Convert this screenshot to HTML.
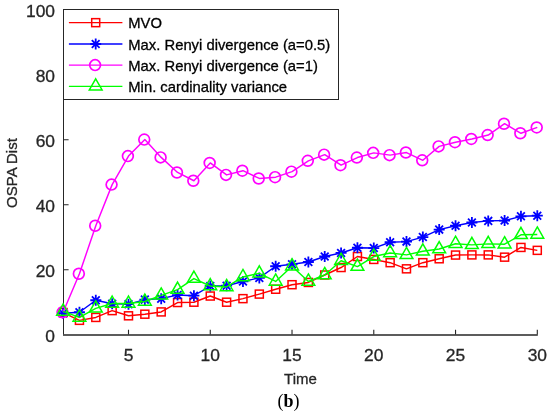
<!DOCTYPE html>
<html><head><meta charset="utf-8"><style>
html,body{margin:0;padding:0;background:#fff;}
svg{display:block;will-change:transform;}
text{font-family:"Liberation Sans",sans-serif;}
.tl{font-size:17.4px;fill:#262626;stroke:#262626;stroke-width:0.3px;}
.al{font-size:15px;fill:#262626;stroke:#262626;stroke-width:0.3px;}
.lg{font-size:14.8px;fill:#000;stroke:#000;stroke-width:0.3px;}
.cap{font-family:"Liberation Serif",serif;font-size:18px;fill:#000;}
</style></head><body>
<svg width="550" height="415" viewBox="0 0 550 415">
<path d="M63.5 9.5V334.4" fill="none" stroke="#262626" stroke-width="1"/>
<path d="M63 334.9H537.8" fill="none" stroke="#262626" stroke-width="1.5"/>
<path d="M64 269.81H68.6M64 204.77H68.6M64 139.73H68.6M64 74.69H68.6M128.5 334.4V329.7M210.26 334.4V329.7M292.02 334.4V329.7M373.78 334.4V329.7M455.54 334.4V329.7M537.3 334.4V329.7" stroke="#262626" stroke-width="1.1"/>
<text x="55" y="342.15" text-anchor="end" class="tl">0</text>
<text x="55" y="277.11" text-anchor="end" class="tl">20</text>
<text x="55" y="212.07" text-anchor="end" class="tl">40</text>
<text x="55" y="147.03" text-anchor="end" class="tl">60</text>
<text x="55" y="81.99" text-anchor="end" class="tl">80</text>
<text x="55" y="16.95" text-anchor="end" class="tl">100</text>
<text x="128.5" y="361" text-anchor="middle" class="tl">5</text>
<text x="210.26" y="361" text-anchor="middle" class="tl">10</text>
<text x="292.02" y="361" text-anchor="middle" class="tl">15</text>
<text x="373.78" y="361" text-anchor="middle" class="tl">20</text>
<text x="455.54" y="361" text-anchor="middle" class="tl">25</text>
<text x="537.3" y="361" text-anchor="middle" class="tl">30</text>
<text x="300.5" y="384" text-anchor="middle" class="al">Time</text>
<text transform="translate(17.2 173) rotate(-90)" text-anchor="middle" class="al">OSPA Dist</text>
<text x="288.5" y="407" text-anchor="middle" class="cap">(<tspan font-weight="bold">b</tspan>)</text>
<polyline points="63.09,312.57 79.44,320.34 95.8,317.43 112.15,310.62 128.5,315.81 144.85,314.19 161.2,311.92 177.56,302.52 193.91,302.2 210.26,296.04 226.61,302.2 242.96,298.64 259.32,294.1 275.67,289.24 292.02,284.7 308.37,282.44 324.72,274.98 341.08,267.53 357.43,256.52 373.78,259.43 390.13,262.67 406.48,268.83 422.84,262.67 439.19,258.78 455.54,255.06 471.89,254.9 488.24,254.9 504.6,257.16 520.95,247.44 537.3,250.36" fill="none" stroke="#ff0000" stroke-width="1.45" stroke-linejoin="round"/>
<rect x="59.09" y="308.57" width="8" height="8" fill="none" stroke="#ff0000" stroke-width="1.5"/>
<rect x="75.44" y="316.34" width="8" height="8" fill="none" stroke="#ff0000" stroke-width="1.5"/>
<rect x="91.8" y="313.43" width="8" height="8" fill="none" stroke="#ff0000" stroke-width="1.5"/>
<rect x="108.15" y="306.62" width="8" height="8" fill="none" stroke="#ff0000" stroke-width="1.5"/>
<rect x="124.5" y="311.81" width="8" height="8" fill="none" stroke="#ff0000" stroke-width="1.5"/>
<rect x="140.85" y="310.19" width="8" height="8" fill="none" stroke="#ff0000" stroke-width="1.5"/>
<rect x="157.2" y="307.92" width="8" height="8" fill="none" stroke="#ff0000" stroke-width="1.5"/>
<rect x="173.56" y="298.52" width="8" height="8" fill="none" stroke="#ff0000" stroke-width="1.5"/>
<rect x="189.91" y="298.2" width="8" height="8" fill="none" stroke="#ff0000" stroke-width="1.5"/>
<rect x="206.26" y="292.04" width="8" height="8" fill="none" stroke="#ff0000" stroke-width="1.5"/>
<rect x="222.61" y="298.2" width="8" height="8" fill="none" stroke="#ff0000" stroke-width="1.5"/>
<rect x="238.96" y="294.64" width="8" height="8" fill="none" stroke="#ff0000" stroke-width="1.5"/>
<rect x="255.32" y="290.1" width="8" height="8" fill="none" stroke="#ff0000" stroke-width="1.5"/>
<rect x="271.67" y="285.24" width="8" height="8" fill="none" stroke="#ff0000" stroke-width="1.5"/>
<rect x="288.02" y="280.7" width="8" height="8" fill="none" stroke="#ff0000" stroke-width="1.5"/>
<rect x="304.37" y="278.44" width="8" height="8" fill="none" stroke="#ff0000" stroke-width="1.5"/>
<rect x="320.72" y="270.98" width="8" height="8" fill="none" stroke="#ff0000" stroke-width="1.5"/>
<rect x="337.08" y="263.53" width="8" height="8" fill="none" stroke="#ff0000" stroke-width="1.5"/>
<rect x="353.43" y="252.52" width="8" height="8" fill="none" stroke="#ff0000" stroke-width="1.5"/>
<rect x="369.78" y="255.43" width="8" height="8" fill="none" stroke="#ff0000" stroke-width="1.5"/>
<rect x="386.13" y="258.67" width="8" height="8" fill="none" stroke="#ff0000" stroke-width="1.5"/>
<rect x="402.48" y="264.83" width="8" height="8" fill="none" stroke="#ff0000" stroke-width="1.5"/>
<rect x="418.84" y="258.67" width="8" height="8" fill="none" stroke="#ff0000" stroke-width="1.5"/>
<rect x="435.19" y="254.78" width="8" height="8" fill="none" stroke="#ff0000" stroke-width="1.5"/>
<rect x="451.54" y="251.06" width="8" height="8" fill="none" stroke="#ff0000" stroke-width="1.5"/>
<rect x="467.89" y="250.9" width="8" height="8" fill="none" stroke="#ff0000" stroke-width="1.5"/>
<rect x="484.24" y="250.9" width="8" height="8" fill="none" stroke="#ff0000" stroke-width="1.5"/>
<rect x="500.6" y="253.16" width="8" height="8" fill="none" stroke="#ff0000" stroke-width="1.5"/>
<rect x="516.95" y="243.44" width="8" height="8" fill="none" stroke="#ff0000" stroke-width="1.5"/>
<rect x="533.3" y="246.36" width="8" height="8" fill="none" stroke="#ff0000" stroke-width="1.5"/>
<polyline points="63.09,313.22 79.44,312.24 95.8,300.26 112.15,303.82 128.5,304.14 144.85,299.61 161.2,298.64 177.56,295.07 193.91,295.72 210.26,286 226.61,285.68 242.96,281.46 259.32,277.9 275.67,266.24 292.02,264.29 308.37,262.02 324.72,256.52 341.08,252.95 357.43,247.77 373.78,248.09 390.13,242.26 406.48,241.61 422.84,237.08 439.19,229.62 455.54,225.74 471.89,222.5 488.24,220.88 504.6,220.55 520.95,216.34 537.3,215.69" fill="none" stroke="#0000ff" stroke-width="1.45" stroke-linejoin="round"/>
<path d="M57.59 313.22H68.59M63.09 307.72V318.72M59.2 309.33L66.98 317.11M59.2 317.11L66.98 309.33" stroke="#0000ff" stroke-width="1.8" fill="none"/>
<path d="M73.94 312.24H84.94M79.44 306.74V317.74M75.55 308.35L83.33 316.13M75.55 316.13L83.33 308.35" stroke="#0000ff" stroke-width="1.8" fill="none"/>
<path d="M90.3 300.26H101.3M95.8 294.76V305.76M91.91 296.37L99.69 304.15M91.91 304.15L99.69 296.37" stroke="#0000ff" stroke-width="1.8" fill="none"/>
<path d="M106.65 303.82H117.65M112.15 298.32V309.32M108.26 299.93L116.04 307.71M108.26 307.71L116.04 299.93" stroke="#0000ff" stroke-width="1.8" fill="none"/>
<path d="M123 304.14H134M128.5 298.64V309.64M124.61 300.25L132.39 308.03M124.61 308.03L132.39 300.25" stroke="#0000ff" stroke-width="1.8" fill="none"/>
<path d="M139.35 299.61H150.35M144.85 294.11V305.11M140.96 295.72L148.74 303.5M140.96 303.5L148.74 295.72" stroke="#0000ff" stroke-width="1.8" fill="none"/>
<path d="M155.7 298.64H166.7M161.2 293.14V304.14M157.31 294.75L165.09 302.53M157.31 302.53L165.09 294.75" stroke="#0000ff" stroke-width="1.8" fill="none"/>
<path d="M172.06 295.07H183.06M177.56 289.57V300.57M173.67 291.18L181.45 298.96M173.67 298.96L181.45 291.18" stroke="#0000ff" stroke-width="1.8" fill="none"/>
<path d="M188.41 295.72H199.41M193.91 290.22V301.22M190.02 291.83L197.8 299.61M190.02 299.61L197.8 291.83" stroke="#0000ff" stroke-width="1.8" fill="none"/>
<path d="M204.76 286H215.76M210.26 280.5V291.5M206.37 282.11L214.15 289.89M206.37 289.89L214.15 282.11" stroke="#0000ff" stroke-width="1.8" fill="none"/>
<path d="M221.11 285.68H232.11M226.61 280.18V291.18M222.72 281.79L230.5 289.57M222.72 289.57L230.5 281.79" stroke="#0000ff" stroke-width="1.8" fill="none"/>
<path d="M237.46 281.46H248.46M242.96 275.96V286.96M239.07 277.57L246.85 285.35M239.07 285.35L246.85 277.57" stroke="#0000ff" stroke-width="1.8" fill="none"/>
<path d="M253.82 277.9H264.82M259.32 272.4V283.4M255.43 274.01L263.21 281.79M255.43 281.79L263.21 274.01" stroke="#0000ff" stroke-width="1.8" fill="none"/>
<path d="M270.17 266.24H281.17M275.67 260.74V271.74M271.78 262.35L279.56 270.13M271.78 270.13L279.56 262.35" stroke="#0000ff" stroke-width="1.8" fill="none"/>
<path d="M286.52 264.29H297.52M292.02 258.79V269.79M288.13 260.4L295.91 268.18M288.13 268.18L295.91 260.4" stroke="#0000ff" stroke-width="1.8" fill="none"/>
<path d="M302.87 262.02H313.87M308.37 256.52V267.52M304.48 258.13L312.26 265.91M304.48 265.91L312.26 258.13" stroke="#0000ff" stroke-width="1.8" fill="none"/>
<path d="M319.22 256.52H330.22M324.72 251.02V262.02M320.83 252.63L328.61 260.41M320.83 260.41L328.61 252.63" stroke="#0000ff" stroke-width="1.8" fill="none"/>
<path d="M335.58 252.95H346.58M341.08 247.45V258.45M337.19 249.06L344.97 256.84M337.19 256.84L344.97 249.06" stroke="#0000ff" stroke-width="1.8" fill="none"/>
<path d="M351.93 247.77H362.93M357.43 242.27V253.27M353.54 243.88L361.32 251.66M353.54 251.66L361.32 243.88" stroke="#0000ff" stroke-width="1.8" fill="none"/>
<path d="M368.28 248.09H379.28M373.78 242.59V253.59M369.89 244.2L377.67 251.98M369.89 251.98L377.67 244.2" stroke="#0000ff" stroke-width="1.8" fill="none"/>
<path d="M384.63 242.26H395.63M390.13 236.76V247.76M386.24 238.37L394.02 246.15M386.24 246.15L394.02 238.37" stroke="#0000ff" stroke-width="1.8" fill="none"/>
<path d="M400.98 241.61H411.98M406.48 236.11V247.11M402.59 237.72L410.37 245.5M402.59 245.5L410.37 237.72" stroke="#0000ff" stroke-width="1.8" fill="none"/>
<path d="M417.34 237.08H428.34M422.84 231.58V242.58M418.95 233.19L426.73 240.97M418.95 240.97L426.73 233.19" stroke="#0000ff" stroke-width="1.8" fill="none"/>
<path d="M433.69 229.62H444.69M439.19 224.12V235.12M435.3 225.73L443.08 233.51M435.3 233.51L443.08 225.73" stroke="#0000ff" stroke-width="1.8" fill="none"/>
<path d="M450.04 225.74H461.04M455.54 220.24V231.24M451.65 221.85L459.43 229.63M451.65 229.63L459.43 221.85" stroke="#0000ff" stroke-width="1.8" fill="none"/>
<path d="M466.39 222.5H477.39M471.89 217V228M468 218.61L475.78 226.39M468 226.39L475.78 218.61" stroke="#0000ff" stroke-width="1.8" fill="none"/>
<path d="M482.74 220.88H493.74M488.24 215.38V226.38M484.35 216.99L492.13 224.77M484.35 224.77L492.13 216.99" stroke="#0000ff" stroke-width="1.8" fill="none"/>
<path d="M499.1 220.55H510.1M504.6 215.05V226.05M500.71 216.66L508.49 224.44M500.71 224.44L508.49 216.66" stroke="#0000ff" stroke-width="1.8" fill="none"/>
<path d="M515.45 216.34H526.45M520.95 210.84V221.84M517.06 212.45L524.84 220.23M517.06 220.23L524.84 212.45" stroke="#0000ff" stroke-width="1.8" fill="none"/>
<path d="M531.8 215.69H542.8M537.3 210.19V221.19M533.41 211.8L541.19 219.58M533.41 219.58L541.19 211.8" stroke="#0000ff" stroke-width="1.8" fill="none"/>
<polyline points="63.09,312.31 79.44,273.72 95.8,225.77 112.15,184.62 128.5,156.11 144.85,139.58 161.2,157.4 177.56,172.47 193.91,180.76 210.26,162.94 226.61,174.9 242.96,170.69 259.32,178.46 275.67,177.17 292.02,171.66 308.37,160.81 324.72,154.65 341.08,165.18 357.43,157.57 373.78,152.87 390.13,155.14 406.48,152.54 422.84,160.32 439.19,146.39 455.54,142.18 471.89,138.94 488.24,135.05 504.6,123.71 520.95,133.27 537.3,127.43" fill="none" stroke="#ff00ff" stroke-width="1.45" stroke-linejoin="round"/>
<circle cx="62.49" cy="312.31" r="5.4" fill="none" stroke="#ff00ff" stroke-width="1.7"/>
<circle cx="78.84" cy="273.72" r="5.4" fill="none" stroke="#ff00ff" stroke-width="1.7"/>
<circle cx="95.2" cy="225.77" r="5.4" fill="none" stroke="#ff00ff" stroke-width="1.7"/>
<circle cx="111.55" cy="184.62" r="5.4" fill="none" stroke="#ff00ff" stroke-width="1.7"/>
<circle cx="127.9" cy="156.11" r="5.4" fill="none" stroke="#ff00ff" stroke-width="1.7"/>
<circle cx="144.25" cy="139.58" r="5.4" fill="none" stroke="#ff00ff" stroke-width="1.7"/>
<circle cx="160.6" cy="157.4" r="5.4" fill="none" stroke="#ff00ff" stroke-width="1.7"/>
<circle cx="176.96" cy="172.47" r="5.4" fill="none" stroke="#ff00ff" stroke-width="1.7"/>
<circle cx="193.31" cy="180.76" r="5.4" fill="none" stroke="#ff00ff" stroke-width="1.7"/>
<circle cx="209.66" cy="162.94" r="5.4" fill="none" stroke="#ff00ff" stroke-width="1.7"/>
<circle cx="226.01" cy="174.9" r="5.4" fill="none" stroke="#ff00ff" stroke-width="1.7"/>
<circle cx="242.36" cy="170.69" r="5.4" fill="none" stroke="#ff00ff" stroke-width="1.7"/>
<circle cx="258.72" cy="178.46" r="5.4" fill="none" stroke="#ff00ff" stroke-width="1.7"/>
<circle cx="275.07" cy="177.17" r="5.4" fill="none" stroke="#ff00ff" stroke-width="1.7"/>
<circle cx="291.42" cy="171.66" r="5.4" fill="none" stroke="#ff00ff" stroke-width="1.7"/>
<circle cx="307.77" cy="160.81" r="5.4" fill="none" stroke="#ff00ff" stroke-width="1.7"/>
<circle cx="324.12" cy="154.65" r="5.4" fill="none" stroke="#ff00ff" stroke-width="1.7"/>
<circle cx="340.48" cy="165.18" r="5.4" fill="none" stroke="#ff00ff" stroke-width="1.7"/>
<circle cx="356.83" cy="157.57" r="5.4" fill="none" stroke="#ff00ff" stroke-width="1.7"/>
<circle cx="373.18" cy="152.87" r="5.4" fill="none" stroke="#ff00ff" stroke-width="1.7"/>
<circle cx="389.53" cy="155.14" r="5.4" fill="none" stroke="#ff00ff" stroke-width="1.7"/>
<circle cx="405.88" cy="152.54" r="5.4" fill="none" stroke="#ff00ff" stroke-width="1.7"/>
<circle cx="422.24" cy="160.32" r="5.4" fill="none" stroke="#ff00ff" stroke-width="1.7"/>
<circle cx="438.59" cy="146.39" r="5.4" fill="none" stroke="#ff00ff" stroke-width="1.7"/>
<circle cx="454.94" cy="142.18" r="5.4" fill="none" stroke="#ff00ff" stroke-width="1.7"/>
<circle cx="471.29" cy="138.94" r="5.4" fill="none" stroke="#ff00ff" stroke-width="1.7"/>
<circle cx="487.64" cy="135.05" r="5.4" fill="none" stroke="#ff00ff" stroke-width="1.7"/>
<circle cx="504" cy="123.71" r="5.4" fill="none" stroke="#ff00ff" stroke-width="1.7"/>
<circle cx="520.35" cy="133.27" r="5.4" fill="none" stroke="#ff00ff" stroke-width="1.7"/>
<circle cx="536.7" cy="127.43" r="5.4" fill="none" stroke="#ff00ff" stroke-width="1.7"/>
<polyline points="63.09,311.43 79.44,317.43 95.8,308.36 112.15,303.5 128.5,303.5 144.85,301.55 161.2,295.4 177.56,289.56 193.91,278.55 210.26,286 226.61,286.97 242.96,276.93 259.32,273.36 275.67,281.46 292.02,266.24 308.37,281.46 324.72,274.98 341.08,260.73 357.43,266.56 373.78,256.52 390.13,252.95 406.48,254.9 422.84,251.33 439.19,249.06 455.54,243.72 471.89,244.85 488.24,243.88 504.6,244.2 520.95,234.81 537.3,234.48" fill="none" stroke="#00ff00" stroke-width="1.45" stroke-linejoin="round"/>
<path d="M63.09 303.93L69.49 315.13L56.69 315.13Z" fill="none" stroke="#00ff00" stroke-width="1.5" stroke-linejoin="miter"/>
<path d="M79.44 309.93L85.84 321.13L73.04 321.13Z" fill="none" stroke="#00ff00" stroke-width="1.5" stroke-linejoin="miter"/>
<path d="M95.8 300.86L102.2 312.06L89.4 312.06Z" fill="none" stroke="#00ff00" stroke-width="1.5" stroke-linejoin="miter"/>
<path d="M112.15 296L118.55 307.2L105.75 307.2Z" fill="none" stroke="#00ff00" stroke-width="1.5" stroke-linejoin="miter"/>
<path d="M128.5 296L134.9 307.2L122.1 307.2Z" fill="none" stroke="#00ff00" stroke-width="1.5" stroke-linejoin="miter"/>
<path d="M144.85 294.05L151.25 305.25L138.45 305.25Z" fill="none" stroke="#00ff00" stroke-width="1.5" stroke-linejoin="miter"/>
<path d="M161.2 287.9L167.6 299.1L154.8 299.1Z" fill="none" stroke="#00ff00" stroke-width="1.5" stroke-linejoin="miter"/>
<path d="M177.56 282.06L183.96 293.26L171.16 293.26Z" fill="none" stroke="#00ff00" stroke-width="1.5" stroke-linejoin="miter"/>
<path d="M193.91 271.05L200.31 282.25L187.51 282.25Z" fill="none" stroke="#00ff00" stroke-width="1.5" stroke-linejoin="miter"/>
<path d="M210.26 278.5L216.66 289.7L203.86 289.7Z" fill="none" stroke="#00ff00" stroke-width="1.5" stroke-linejoin="miter"/>
<path d="M226.61 279.47L233.01 290.67L220.21 290.67Z" fill="none" stroke="#00ff00" stroke-width="1.5" stroke-linejoin="miter"/>
<path d="M242.96 269.43L249.36 280.63L236.56 280.63Z" fill="none" stroke="#00ff00" stroke-width="1.5" stroke-linejoin="miter"/>
<path d="M259.32 265.86L265.72 277.06L252.92 277.06Z" fill="none" stroke="#00ff00" stroke-width="1.5" stroke-linejoin="miter"/>
<path d="M275.67 273.96L282.07 285.16L269.27 285.16Z" fill="none" stroke="#00ff00" stroke-width="1.5" stroke-linejoin="miter"/>
<path d="M292.02 258.74L298.42 269.94L285.62 269.94Z" fill="none" stroke="#00ff00" stroke-width="1.5" stroke-linejoin="miter"/>
<path d="M308.37 273.96L314.77 285.16L301.97 285.16Z" fill="none" stroke="#00ff00" stroke-width="1.5" stroke-linejoin="miter"/>
<path d="M324.72 267.48L331.12 278.68L318.32 278.68Z" fill="none" stroke="#00ff00" stroke-width="1.5" stroke-linejoin="miter"/>
<path d="M341.08 253.23L347.48 264.43L334.68 264.43Z" fill="none" stroke="#00ff00" stroke-width="1.5" stroke-linejoin="miter"/>
<path d="M357.43 259.06L363.83 270.26L351.03 270.26Z" fill="none" stroke="#00ff00" stroke-width="1.5" stroke-linejoin="miter"/>
<path d="M373.78 249.02L380.18 260.22L367.38 260.22Z" fill="none" stroke="#00ff00" stroke-width="1.5" stroke-linejoin="miter"/>
<path d="M390.13 245.45L396.53 256.65L383.73 256.65Z" fill="none" stroke="#00ff00" stroke-width="1.5" stroke-linejoin="miter"/>
<path d="M406.48 247.4L412.88 258.6L400.08 258.6Z" fill="none" stroke="#00ff00" stroke-width="1.5" stroke-linejoin="miter"/>
<path d="M422.84 243.83L429.24 255.03L416.44 255.03Z" fill="none" stroke="#00ff00" stroke-width="1.5" stroke-linejoin="miter"/>
<path d="M439.19 241.56L445.59 252.76L432.79 252.76Z" fill="none" stroke="#00ff00" stroke-width="1.5" stroke-linejoin="miter"/>
<path d="M455.54 236.22L461.94 247.42L449.14 247.42Z" fill="none" stroke="#00ff00" stroke-width="1.5" stroke-linejoin="miter"/>
<path d="M471.89 237.35L478.29 248.55L465.49 248.55Z" fill="none" stroke="#00ff00" stroke-width="1.5" stroke-linejoin="miter"/>
<path d="M488.24 236.38L494.64 247.58L481.84 247.58Z" fill="none" stroke="#00ff00" stroke-width="1.5" stroke-linejoin="miter"/>
<path d="M504.6 236.7L511 247.9L498.2 247.9Z" fill="none" stroke="#00ff00" stroke-width="1.5" stroke-linejoin="miter"/>
<path d="M520.95 227.31L527.35 238.51L514.55 238.51Z" fill="none" stroke="#00ff00" stroke-width="1.5" stroke-linejoin="miter"/>
<path d="M537.3 226.98L543.7 238.18L530.9 238.18Z" fill="none" stroke="#00ff00" stroke-width="1.5" stroke-linejoin="miter"/>
<rect x="63.5" y="9.5" width="275" height="90" fill="#fff" stroke="#262626" stroke-width="1"/>
<path d="M68.9 22.65H122.4" stroke="#ff0000" stroke-width="1.3"/>
<rect x="91.7" y="18.65" width="8" height="8" fill="none" stroke="#ff0000" stroke-width="1.5"/>
<text x="128.3" y="28.2" class="lg">MVO</text>
<path d="M68.9 44H122.4" stroke="#0000ff" stroke-width="1.3"/>
<path d="M90.2 44H101.2M95.7 38.5V49.5M91.81 40.11L99.59 47.89M91.81 47.89L99.59 40.11" stroke="#0000ff" stroke-width="1.8" fill="none"/>
<text x="128.3" y="49.9" class="lg">Max. Renyi divergence (a=0.5)</text>
<path d="M68.9 65.1H122.4" stroke="#ff00ff" stroke-width="1.3"/>
<circle cx="95.1" cy="65.1" r="5.4" fill="none" stroke="#ff00ff" stroke-width="1.7"/>
<text x="128.3" y="70.9" class="lg">Max. Renyi divergence (a=1)</text>
<path d="M68.9 86.3H122.4" stroke="#00ff00" stroke-width="1.3"/>
<path d="M95.7 78.8L102.1 90L89.3 90Z" fill="none" stroke="#00ff00" stroke-width="1.5" stroke-linejoin="miter"/>
<text x="128.3" y="92.1" class="lg">Min. cardinality variance</text>
</svg>
</body></html>
